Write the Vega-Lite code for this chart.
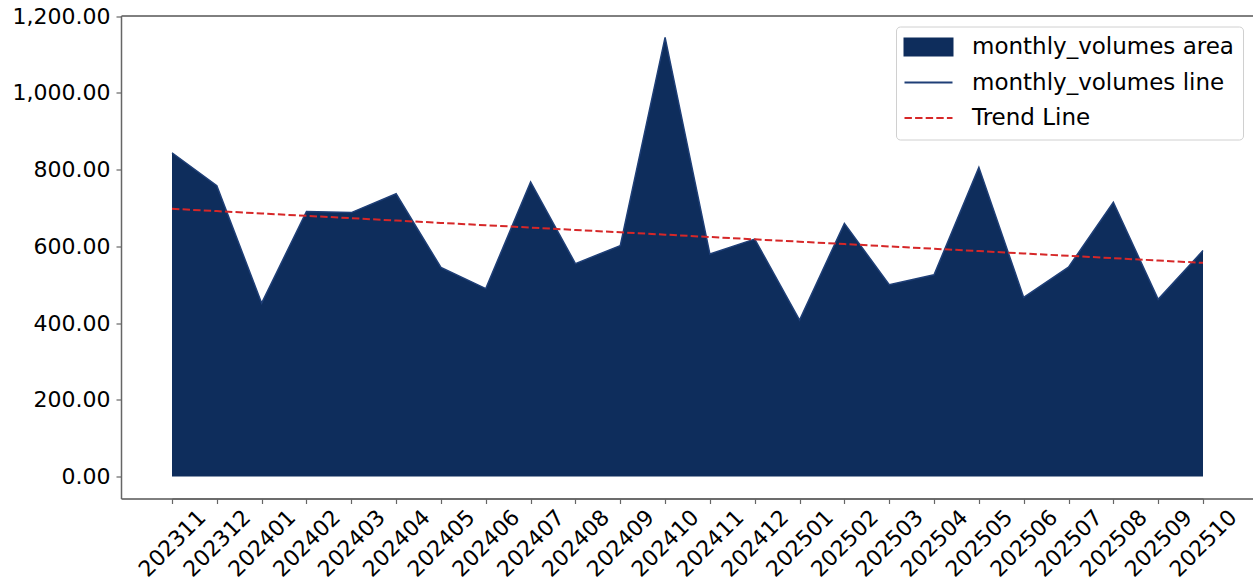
{
  "$schema": "https://vega.github.io/schema/vega-lite/v6.json",
  "width": 1133,
  "height": 483,
  "autosize": "none",
  "padding": {"left": 121, "top": 15.5, "right": 0, "bottom": 85.5},
  "background": "white",
  "config": {
    "font": "DejaVu Sans",
    "view": {"stroke": "black", "strokeWidth": 1},
    "axis": {"labelFont": "DejaVu Sans", "labelFontSize": 22, "labelColor": "black", "domainColor": "#666666", "domainWidth": 1.5, "tickColor": "#666666", "tickWidth": 1.2, "tickSize": 5, "grid": false, "title": null}
  },
  "data": {"values": [
    {"month": "202311", "volume": 844, "trend": 698.0},
    {"month": "202312", "volume": 758, "trend": 691.9},
    {"month": "202401", "volume": 452, "trend": 685.7},
    {"month": "202402", "volume": 691, "trend": 679.6},
    {"month": "202403", "volume": 688, "trend": 673.5},
    {"month": "202404", "volume": 737, "trend": 667.3},
    {"month": "202405", "volume": 545, "trend": 661.2},
    {"month": "202406", "volume": 490, "trend": 655.1},
    {"month": "202407", "volume": 768, "trend": 649.0},
    {"month": "202408", "volume": 555, "trend": 642.8},
    {"month": "202409", "volume": 602, "trend": 636.7},
    {"month": "202410", "volume": 1145, "trend": 630.6},
    {"month": "202411", "volume": 580, "trend": 624.4},
    {"month": "202412", "volume": 619, "trend": 618.3},
    {"month": "202501", "volume": 408, "trend": 612.2},
    {"month": "202502", "volume": 660, "trend": 606.1},
    {"month": "202503", "volume": 500, "trend": 599.9},
    {"month": "202504", "volume": 526, "trend": 593.8},
    {"month": "202505", "volume": 806, "trend": 587.7},
    {"month": "202506", "volume": 467, "trend": 581.5},
    {"month": "202507", "volume": 546, "trend": 575.4},
    {"month": "202508", "volume": 715, "trend": 569.3},
    {"month": "202509", "volume": 462, "trend": 563.1},
    {"month": "202510", "volume": 589, "trend": 557.0}
  ]},
  "encoding": {
    "x": {"field": "month", "type": "ordinal", "sort": null,
      "scale": {"type": "point", "padding": 0, "range": [51, 1082]},
      "axis": {"labelAngle": -45, "labelAlign": "center", "labelBaseline": "middle", "labelPadding": 39.5}}
  },
  "layer": [
    {
      "mark": {"type": "area", "opacity": 1, "color": "#0e2d5c"},
      "encoding": {
        "y": {"field": "volume", "type": "quantitative",
          "scale": {"domain": [-57.2, 1201.8], "nice": false, "zero": false},
          "axis": {"values": [0, 200, 400, 600, 800, 1000, 1200], "format": ",.2f", "labelPadding": 6}},
        "y2": {"datum": 0}
      }
    },
    {
      "mark": {"type": "line", "strokeWidth": 1.5, "color": "#1f3f77"},
      "encoding": {
        "y": {"field": "volume", "type": "quantitative"}
      }
    },
    {
      "mark": {"type": "line", "strokeWidth": 2, "strokeDash": [7.4, 3.2]},
      "encoding": {
        "y": {"field": "trend", "type": "quantitative"},
        "color": {"datum": "Trend Line", "type": "nominal",
          "scale": {"domain": ["monthly_volumes area", "monthly_volumes line", "Trend Line"], "range": ["#0e2d5c", "#1f3f77", "#d62728"]},
          "legend": {
            "title": null, "orient": "top-right", "offset": 11,
            "labelFontSize": 23, "labelFont": "DejaVu Sans", "labelColor": "black", "labelLimit": 0,
            "symbolSize": 400, "rowPadding": 11.5, "padding": 9, "labelOffset": 32, "symbolOffset": 12,
            "strokeColor": "#d0d0d0", "cornerRadius": 4, "fillColor": "rgba(255,255,255,0.8)",
            "encode": {"symbols": {"update": {
              "shape": {"signal": "datum.value === 'monthly_volumes area' ? 'M-2.4,-0.85H2.4V0.85H-2.4Z' : 'M-2.4,0H2.4'"},
              "fill": {"signal": "datum.value === 'monthly_volumes area' ? '#0e2d5c' : 'transparent'"},
              "stroke": {"signal": "datum.value === 'Trend Line' ? '#d62728' : (datum.value === 'monthly_volumes line' ? '#1f3f77' : 'transparent')"},
              "strokeWidth": {"value": 2},
              "strokeDash": {"signal": "datum.value === 'Trend Line' ? [7.4, 3.2] : []"},
              "opacity": {"value": 1}
            }}}
          }}
      }
    }
  ]
}
